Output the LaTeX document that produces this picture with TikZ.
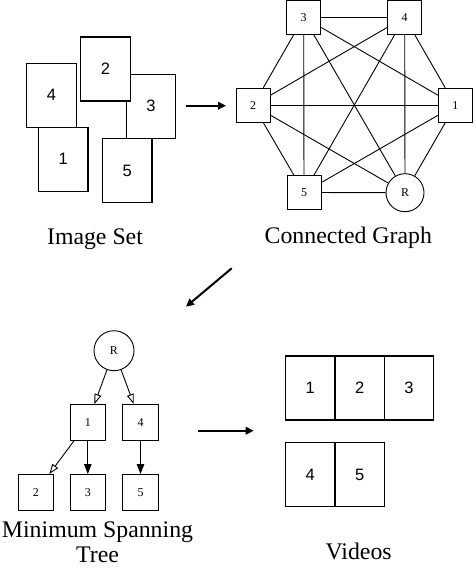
\documentclass[tikz,border=0pt]{standalone}
\usepackage{fontspec}
\setmainfont{Liberation Serif}
\newfontfamily\digitfont{Liberation Sans}
\usetikzlibrary{arrows.meta}
\begin{document}
\begin{tikzpicture}[x=1pt,y=-1pt,
  imgbox/.style={draw, line width=1.3pt, fill=white, minimum width=49.5pt, minimum height=64pt, inner sep=0pt, font=\digitfont\fontsize{16.5}{16.5}\selectfont},
  gbox/.style={draw, line width=0.9pt, fill=white, minimum width=34pt, minimum height=34pt, inner sep=0pt, font=\fontsize{12}{12}\selectfont},
  gcirc/.style={draw, circle, line width=0.9pt, fill=white, minimum size=38pt, inner sep=0pt, font=\fontsize{12}{12}\selectfont},
  gedge/.style={line width=0.9pt},
  openarrow/.style={line width=0.9pt, -{Triangle[open,length=10pt,width=7pt]}},
  fillarrow/.style={line width=0.9pt, -{Triangle[length=10pt,width=7.5pt]}},
  bigarrow/.style={line width=2pt, -{Triangle[length=8pt,width=7.5pt]}},
  vidcell/.style={draw, line width=1.3pt, minimum width=49.3pt, minimum height=64pt, inner sep=0pt, font=\digitfont\fontsize{16.5}{16.5}\selectfont},
  caption/.style={font=\fontsize{23.8}{25}\selectfont, align=center, inner sep=0pt}
]
\useasboundingbox (0,0) rectangle (474,585);

% Image set
\node[imgbox] (i3) at (150.9,106.2) {3};
\node[imgbox] (i2) at (105.5,69) {2};
\node[imgbox] (i4) at (51.5,95.3) {4};
\node[imgbox] (i1) at (63.2,159.3) {1};
\node[imgbox] (i5) at (127.2,170.7) {5};
\node[caption] (capA) at (95,239) {Image Set};

% arrow 1
\coordinate (a1s) at (186,105.7);
\coordinate (a1e) at (226,105.7);
\draw[bigarrow] (a1s) -- (a1e);

% Connected graph
\node[gbox] (g3) at (303.7,17.3) {3};
\node[gbox] (g4) at (404.7,17.3) {4};
\node[gbox] (g2) at (253.2,105.3) {2};
\node[gbox] (g1) at (455.3,105.3) {1};
\node[gbox] (g5) at (304,192.5) {5};
\node[gcirc] (gR) at (405,192.7) {R};
\foreach \a/\b in {g3/g4,g3/g2,g3/g5,g3/gR,g3/g1,g4/g2,g4/g5,g4/gR,g4/g1,g2/g1,g2/g5,g2/gR,g5/gR,g5/g1,g1/gR}
  \draw[gedge] (\a) -- (\b);
\node[caption] (capB) at (348.3,238) {Connected Graph};

% arrow 2
\coordinate (a2s) at (231.7,268.3);
\coordinate (a2e) at (186,306.7);
\draw[bigarrow] (a2s) -- (a2e);

% Tree
\node[gcirc, minimum size=40pt] (tR) at (114,350.7) {R};
\node[gbox, minimum width=35.5pt, minimum height=35.5pt] (t1) at (87.8,422.2) {1};
\node[gbox, minimum width=35.5pt, minimum height=35.5pt] (t4) at (140.5,422.2) {4};
\node[gbox, minimum width=35.5pt, minimum height=35.5pt] (t2) at (35.8,492.2) {2};
\node[gbox, minimum width=35.5pt, minimum height=35.5pt] (t3) at (87.8,492.2) {3};
\node[gbox, minimum width=35.5pt, minimum height=35.5pt] (t5) at (140.5,492.2) {5};
\draw[openarrow] (tR) -- (t1);
\draw[openarrow] (tR) -- (t4);
\draw[openarrow] (t1) -- (t2);
\draw[fillarrow] (t1) -- (t3);
\draw[fillarrow] (t4) -- (t5);
\node[caption] (capC) at (97.5,542.5) {Minimum Spanning\\Tree};

% arrow 3
\coordinate (a3s) at (197.7,430.7);
\coordinate (a3e) at (253.7,430.7);
\draw[bigarrow] (a3s) -- (a3e);

% Videos
\node[vidcell] (v1) at (310.3,388) {1};
\node[vidcell] (v2) at (359.6,388) {2};
\node[vidcell] (v3) at (408.9,388) {3};
\node[vidcell] (v4) at (310.3,474.8) {4};
\node[vidcell] (v5) at (359.6,474.8) {5};
\node[caption] (capD) at (358.7,551.7) {Videos};
\end{tikzpicture}
\end{document}
